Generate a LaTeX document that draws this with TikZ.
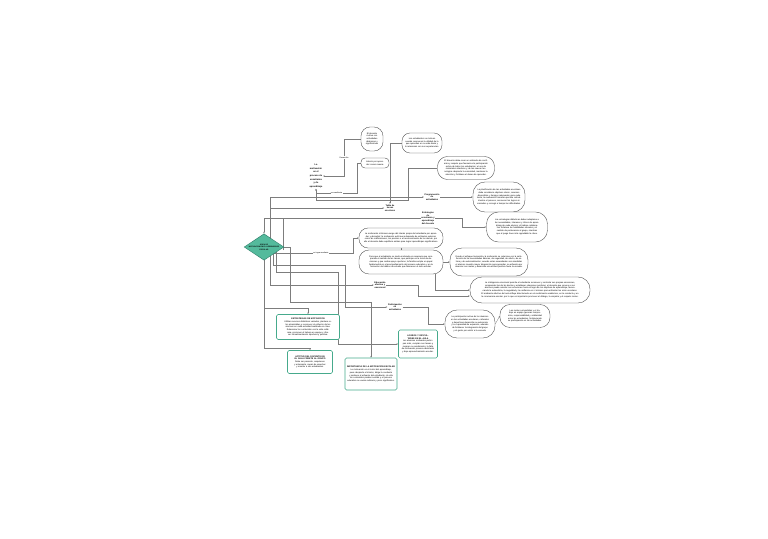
\documentclass[tikz,border=0pt]{standalone}
\usepackage{fontspec}
\setmainfont{Liberation Sans}
\usetikzlibrary{shapes.geometric,arrows.meta,calc}
\pgfdeclarelayer{bg}
\pgfsetlayers{bg,main}
\definecolor{tealfill}{RGB}{84,186,156}
\definecolor{tealdark}{RGB}{40,120,100}
\definecolor{tealline}{RGB}{70,170,140}
\definecolor{edgec}{RGB}{125,125,125}
\tikzset{
  bub/.style={draw=black!75, line width=0.35pt, fill=white, align=center, inner sep=0.6pt},
  tbox/.style={draw=tealline, line width=0.6pt, fill=white, rounded corners=1.5pt, align=center, inner sep=1pt},
  lbl/.style={font=\bfseries\fontsize{2.2}{2.7}\selectfont, align=center, inner sep=0.5pt},
  arr/.style={draw=edgec, line width=0.3pt, -{Stealth[length=1.8pt,width=1.4pt]}},
  ln/.style={draw=edgec, line width=0.3pt},
  elab/.style={fill=white, inner sep=0.4pt, font=\fontsize{1.9}{2.3}\selectfont},
}
\begin{document}
\begin{tikzpicture}[x=1pt,y=-1pt,font=\fontsize{2.15}{2.7}\selectfont]
\useasboundingbox (0,0) rectangle (768,538);

% central diamond
\node[diamond, draw=tealdark, line width=0.4pt, fill=tealfill, minimum width=36pt, minimum height=25pt, inner sep=0pt, aspect=1.5, align=center, font=\bfseries\fontsize{1.8}{2.3}\selectfont] (D) at (264,247) {ÁREA DE\\ MOTIVACIÓN EN EL APRENDIZAJE\\ ESCOLAR};

% bold text nodes
\node[lbl, font=\bfseries\fontsize{2.3}{3.7}\selectfont] (T1) at (316,176) {La\\ motivación\\ en el\\ proceso de\\ enseñanza\\ y de\\ aprendizaje};
\node[lbl] (T2) at (432,197) {Programación\\ de\\ actividades};
\node[lbl] (T3) at (428,218) {Estrategias\\ de\\ enseñanza y\\ aprendizaje\\ del docente};
\node[lbl] (T4) at (390,208) {Tabla de\\ tareas\\ escolares};
\node[lbl] (T5) at (380,285) {Educación\\ afectiva y\\ emocional};
\node[lbl] (T6) at (395,307) {Participación\\ en\\ actividades};

% rounded bubbles
\node[bub, rounded corners=9pt, minimum width=22pt, minimum height=24pt, text width=17pt] (E1) at (372,139) {El docente motiva con actividades dinámicas y significativas};
\node[bub, rounded corners=4pt, minimum width=28pt, minimum height=10pt, text width=26pt] (E2) at (375,163) {Interés por aprender cosas nuevas};
\node[bub, rounded corners=8pt, minimum width=40pt, minimum height=20pt, text width=34pt] (E3) at (422,143) {Los estudiantes se motivan cuando reconocen la utilidad de lo que aprenden en su vida diaria y lo relacionan con sus experiencias.};
\node[bub, rounded corners=10pt, minimum width=57pt, minimum height=23pt, text width=50pt] (E4) at (466,168) {El docente debe crear un ambiente de confianza y respeto que favorezca la participación activa de todos los estudiantes; el uso de materiales atractivos y de las nuevas tecnologías despierta la curiosidad, mantiene la atención y fortalece el deseo de aprender.};
\node[bub, rounded corners=12pt, minimum width=52pt, minimum height=30pt, text width=44pt] (E5) at (499,197) {La planificación de las actividades escolares debe considerar objetivos claros, recursos disponibles y tiempos adecuados para cada tarea; la evaluación formativa permite retroalimentar el proceso, reconocer los logros alcanzados y corregir a tiempo las dificultades.};
\node[bub, rounded corners=12pt, minimum width=61pt, minimum height=30pt, text width=52pt] (E6) at (517,227) {Las estrategias didácticas deben adaptarse a las necesidades, intereses y ritmos de aprendizaje de cada alumno; el trabajo colaborativo fortalece las habilidades sociales y el sentido de pertenencia al grupo, mientras que el juego hace más agradable la clase.};
\node[bub, rounded corners=9pt, minimum width=84pt, minimum height=20pt, text width=74pt] (E7) at (401,238) {La motivación intrínseca surge del interés propio del estudiante por aprender y descubrir; la motivación extrínseca depende de estímulos externos como las calificaciones, los premios o el reconocimiento de los demás, por ello el docente debe equilibrar ambas para lograr aprendizajes significativos.};
\node[bub, rounded corners=10pt, minimum width=84pt, minimum height=24pt, text width=74pt] (E8) at (401,262) {Para que el estudiante se sienta motivado es necesario que comprenda el sentido de las tareas, que participe en la toma de decisiones y que reciba apoyo oportuno; la familia cumple un papel fundamental en el acompañamiento del proceso educativo y en la formación de hábitos de estudio que favorecen el éxito escolar.};
\node[bub, rounded corners=12pt, minimum width=78pt, minimum height=28pt, text width=68pt] (E9) at (489,262) {Desde el enfoque humanista, la motivación se relaciona con la satisfacción de las necesidades básicas, de seguridad, de afecto, de estima y de autorrealización; cuando estas necesidades son atendidas el alumno muestra mayor disposición para aprender, se esfuerza por alcanzar sus metas y desarrolla una actitud positiva hacia la escuela.};
\node[bub, rounded corners=12pt, minimum width=120pt, minimum height=26pt, text width=106pt] (E10) at (530,290) {La inteligencia emocional permite al estudiante reconocer y controlar sus propias emociones, comprender las de los demás y establecer relaciones positivas; el docente que conoce a sus alumnos puede orientar sus emociones hacia el logro de los objetivos de aprendizaje, favoreciendo la autoestima, la seguridad y la confianza en sí mismos para enfrentar los retos escolares.\\[0.6pt] El ambiente afectivo del aula influye directamente en el rendimiento académico, en la conducta y en la convivencia escolar, por lo que es importante promover el diálogo, la empatía y el respeto mutuo.};
\node[bub, rounded corners=10pt, minimum width=50pt, minimum height=23pt, text width=43pt] (E11) at (525,316) {Las metas compartidas y el trabajo en equipo generan compromiso, responsabilidad y solidaridad entre los estudiantes, fortaleciendo su participación en las actividades.};
\node[bub, rounded corners=12pt, minimum width=50pt, minimum height=28pt, text width=43pt] (E12) at (470,324) {La participación activa de los alumnos en las actividades escolares, culturales y deportivas desarrolla su autonomía y su capacidad de expresión, además de fortalecer la integración del grupo y el gusto por asistir a la escuela.};

% teal boxes
\node[tbox, minimum width=63pt, minimum height=25pt, text width=58pt] (B1) at (308,327) {\textbf{ESTRATEGIAS DE MOTIVACIÓN}\\ Utilizar recursos didácticos variados, plantear retos alcanzables y reconocer el esfuerzo de los alumnos en cada actividad realizada en clase.\\ Relacionar los contenidos con la vida cotidiana, promover el trabajo en equipo y ofrecer retroalimentación oportuna y positiva.};
\node[tbox, minimum width=45pt, minimum height=23pt, text width=41pt] (B2) at (310,362) {\textbf{ACTITUD DEL DOCENTE EN EL AULA FRENTE AL GRUPO}\\ Debe ser paciente, respetuoso y entusiasta, capaz de escuchar y orientar a sus estudiantes.};
\node[tbox, minimum width=39pt, minimum height=28pt, text width=35pt] (B3) at (418,344) {\textbf{LOGROS Y DIFICULTADES EN EL AULA}\\ Los alumnos motivados participan más, cumplen sus tareas y mejoran su rendimiento; la falta de motivación provoca desinterés y bajo aprovechamiento escolar.};
\node[tbox, minimum width=52pt, minimum height=32pt, text width=48pt] (B4) at (371,374) {\textbf{IMPORTANCIA DE LA MOTIVACIÓN ESCOLAR}\\ La motivación es el motor del aprendizaje, pues despierta el interés, dirige la conducta y sostiene el esfuerzo del estudiante; sin ella los contenidos pierden sentido y el proceso educativo se vuelve rutinario y poco significativo.};

\begin{pgfonlayer}{bg}
\fill[white] (0,0) rectangle (768,538);
% upper connectors
\draw[arr] (E1.west) -| node[pos=0.75, elab]{Desarrolla} (344,176) -- (T1.east);
\draw[arr] (E2.west) -| (357,193) -| node[pos=0.25, elab]{se manifiesta} (T1.south);
\draw[arr] (E4.west) -| (408,200) -| (T1.south);
\draw[arr] (E3.west) -| (T4.north);
% from the diamond
\draw[arr] ([xshift=6pt]D.center) |- (T2.west);
\draw[arr] ([xshift=6pt]D.center) |- (T4.west);
\draw[arr] (T3.west) -| (D.north);
\draw[ln] ([xshift=19pt,yshift=-3pt]D.center) -- ([xshift=19pt]D.center |- T3.west);
\draw[arr] ([xshift=9pt,yshift=-6pt]D.center) -| node[pos=0.3, elab]{se logra mediante} (353,238) -- (E7.west);
\draw[ln] (E7.south) -- (E8.north);
\draw[arr] (E8.east) -- (E9.west);
\draw[arr] ([xshift=34pt]E8.south) |- (E10.west);
\draw[arr] ([xshift=6pt]D.center) |- (T5.west);
\draw[arr] (T5.east) -| (418,296) -- ([yshift=-6pt]E10.west);
\draw[arr] ([xshift=9pt,yshift=-6pt]D.center) |- (345,265) |- (T6.west);
\draw[arr] (T6.east) -| (428,324) -- (E12.west);
\draw[arr] (E12.east) -- (E11.west);
\draw[arr] (T2.east) -- (E5.west);
\draw[arr] (T3.east) -| (462,227) -- (E6.west);
\draw[arr] (D.south) |- (308,308) -- (B1.north);
\draw[arr] (D.south) |- (310,348) -- (B2.north);
\draw[arr] ([xshift=12pt,yshift=-3pt]D.center) |- (338,272) |- (B3.west);
\draw[arr] (D.east) -| (290,302) -| (B4.north);
\end{pgfonlayer}
\end{tikzpicture}
\end{document}
